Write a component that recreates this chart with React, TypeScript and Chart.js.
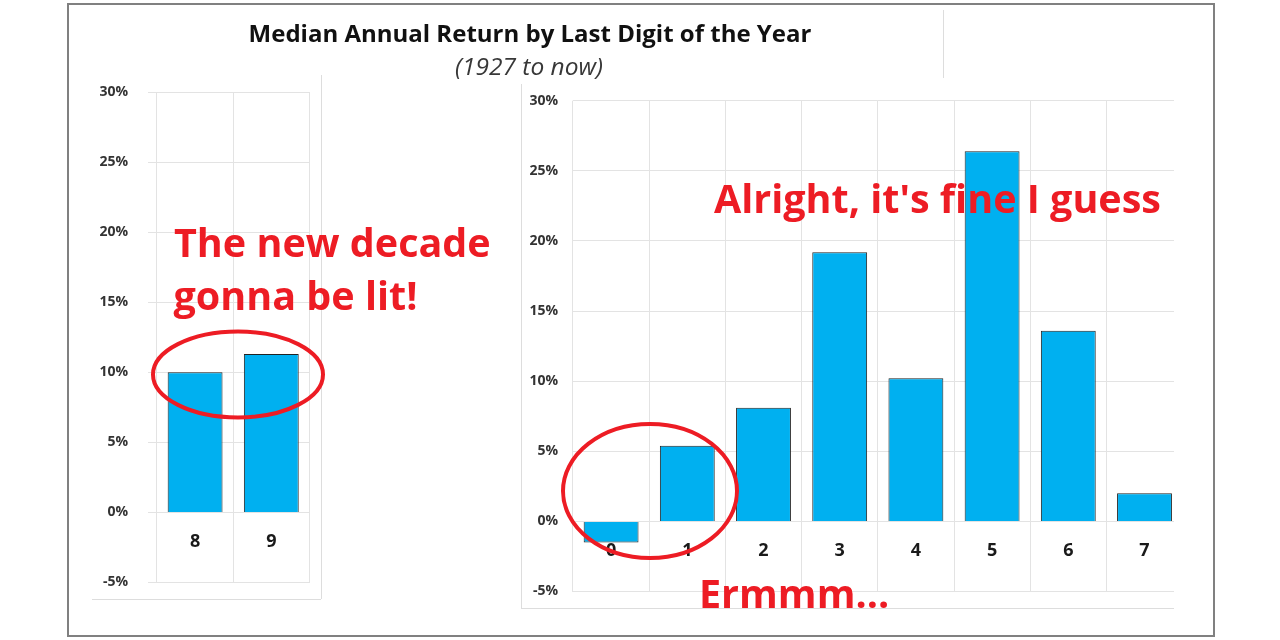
import React, { useEffect, useRef } from "react";
import { Chart, registerables } from "chart.js";

Chart.register(...registerables);

// ---- data ----
const leftCategories = ["8", "9"];
const leftValues = [10.0, 11.3];
const rightCategories = ["0", "1", "2", "3", "4", "5", "6", "7"];
const rightValues = [-1.5, 5.4, 8.1, 19.2, 10.2, 26.4, 13.6, 2.0];
const yMin = -5;
const yMax = 30;
const yStep = 5;

const titleText = "Median Annual Return by Last Digit of the Year";
const subtitleText = "(1927 to now)";
const noteLeft = ["The new decade", "gonna be lit!"];
const noteRight = "Alright, it's fine I guess";
const noteBottom = "Ermmm...";

const BAR = "#00B0F0";
const GRID = "#e3e3e3";
const RED = "#ED1C24";
const FONT = '"Open Sans", "DejaVu Sans", sans-serif';

const zeroLabelPlugin = {
  id: "zeroLabels",
  afterDatasetsDraw(chart: any, _args: any, opts: any) {
    const { ctx } = chart;
    const x = chart.scales.x;
    const y = chart.scales.y;
    const y0 = y.getPixelForValue(0) + (opts.offset || 29);
    ctx.save();
    ctx.font = `bold 18px ${FONT}`;
    ctx.fillStyle = "#1a1a1a";
    ctx.textAlign = "center";
    ctx.textBaseline = "middle";
    (chart.data.labels as string[]).forEach((l, i) => {
      ctx.fillText(l, x.getPixelForValue(i), y0);
    });
    ctx.restore();
  },
};

type PanelProps = {
  labels: string[];
  values: number[];
  left: number;
  top: number;
  width: number;
  height: number;
  clipWidth: number;
  yWidth: number;
  pad: { top: number; right: number; bottom: number };
  tickLength: number;
  drawTicks: boolean;
  labelPad: number;
  labelOffset: number;
};

function Panel(p: PanelProps) {
  const ref = useRef<HTMLCanvasElement>(null);
  useEffect(() => {
    if (!ref.current) return;
    const chart = new Chart(ref.current, {
      type: "bar",
      data: {
        labels: p.labels,
        datasets: [
          {
            data: p.values,
            backgroundColor: BAR,
            borderColor: "#222222",
            borderWidth: 1,
            categoryPercentage: 1,
            barPercentage: 0.72,
          },
        ],
      },
      plugins: [zeroLabelPlugin],
      options: {
        animation: false,
        responsive: false,
        maintainAspectRatio: false,
        layout: { padding: { left: 0, top: p.pad.top, right: p.pad.right, bottom: p.pad.bottom } },
        plugins: {
          legend: { display: false },
          tooltip: { enabled: false },
          title: { display: false },
          // @ts-ignore
          zeroLabels: { offset: p.labelOffset },
        },
        scales: {
          x: {
            grid: { color: GRID, lineWidth: 1, drawTicks: false, offset: true },
            border: { display: false },
            ticks: { display: false },
            afterFit: (s: any) => {
              s.height = 0;
              s.paddingLeft = 0;
              s.paddingRight = 0;
              s.paddingTop = 0;
              s.paddingBottom = 0;
            },
          },
          y: {
            min: yMin,
            max: yMax,
            grid: { color: GRID, lineWidth: 1, drawTicks: p.drawTicks, tickLength: p.tickLength },
            border: { display: false },
            ticks: {
              stepSize: yStep,
              padding: p.labelPad,
              color: "#333333",
              font: { family: FONT, size: 14, weight: "bold" },
              callback: (v: any) => `${v}%`,
            },
            afterFit: (s: any) => {
              s.width = p.yWidth;
              s.paddingTop = 0;
              s.paddingBottom = 0;
            },
          },
        },
      },
    });
    return () => chart.destroy();
  }, []);
  return (
    <div
      style={{
        position: "absolute",
        left: p.left,
        top: p.top,
        width: p.clipWidth,
        height: p.height,
        overflow: "hidden",
      }}
    >
      <canvas ref={ref} width={p.width} height={p.height} style={{ width: p.width, height: p.height, display: "block" }} />
    </div>
  );
}

export default function App() {
  return (
    <div
      style={{
        position: "fixed",
        left: 0,
        top: 0,
        width: 1280,
        height: 640,
        background: "#ffffff",
        overflow: "hidden",
      }}
    >
      <Panel
        labels={leftCategories}
        values={leftValues}
        left={80}
        top={80}
        width={250}
        height={520}
        clipWidth={250}
        yWidth={77}
        pad={{ top: 12, right: 20.6, bottom: 17.5 }}
        tickLength={9}
        drawTicks={true}
        labelPad={20}
        labelOffset={29.5}
      />
      <Panel
        labels={rightCategories}
        values={rightValues}
        left={500}
        top={85}
        width={700}
        height={520}
        clipWidth={674}
        yWidth={73}
        pad={{ top: 15.7, right: 17.4, bottom: 13.5 }}
        tickLength={0}
        drawTicks={false}
        labelPad={15}
        labelOffset={29.5}
      />
      <svg
        width={1280}
        height={640}
        style={{ position: "absolute", left: 0, top: 0, pointerEvents: "none" }}
      >
        {/* frame pieces */}
        <rect x={68} y={4} width={1146} height={632} fill="none" stroke="#808080" strokeWidth={2} />
        <line x1={943.5} y1={10} x2={943.5} y2={78} stroke="#dddddd" strokeWidth={1} />
        <line x1={321.5} y1={75} x2={321.5} y2={599} stroke="#dddddd" strokeWidth={1} />
        <line x1={92} y1={599.5} x2={321} y2={599.5} stroke="#dddddd" strokeWidth={1} />
        <line x1={521.5} y1={84} x2={521.5} y2={608} stroke="#dddddd" strokeWidth={1} />
        <line x1={521} y1={608.5} x2={1174} y2={608.5} stroke="#dddddd" strokeWidth={1} />

        {/* titles */}
        <text x={530} y={41.7} textAnchor="middle" fontFamily={FONT} fontWeight="bold" fontSize={24} fill="#111111">
          {titleText}
        </text>
        <text x={529} y={75} textAnchor="middle" fontFamily={FONT} fontStyle="italic" fontSize={24.5} fill="#383838">
          {subtitleText}
        </text>

        {/* annotations */}
        <ellipse cx={238} cy={374.5} rx={85} ry={43} fill="none" stroke={RED} strokeWidth={4} />
        <ellipse cx={650} cy={491} rx={87} ry={67} fill="none" stroke={RED} strokeWidth={4} />
        <text x={174} y={256.7} fontFamily={FONT} fontWeight="bold" fontSize={39.5} fill={RED}>
          {noteLeft[0]}
        </text>
        <text x={173.5} y={310} fontFamily={FONT} fontWeight="bold" fontSize={39.5} fill={RED}>
          {noteLeft[1]}
        </text>
        <text x={714} y={213.3} fontFamily={FONT} fontWeight="bold" fontSize={39.5} fill={RED}>
          {noteRight}
        </text>
        <text x={699} y={608.3} fontFamily={FONT} fontWeight="bold" fontSize={39.5} fill={RED}>
          {noteBottom}
        </text>
      </svg>
    </div>
  );
}
